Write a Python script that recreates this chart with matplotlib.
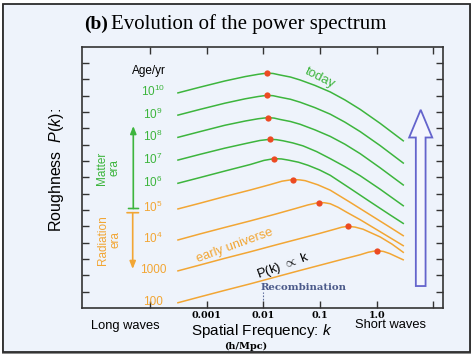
import numpy as np
import matplotlib
matplotlib.use("Agg")
import matplotlib.pyplot as plt
from matplotlib.patches import Rectangle, FancyArrow

plt.rcParams['font.family'] = ['Liberation Sans', 'DejaVu Sans']
plt.rcParams['mathtext.fontset'] = 'custom'
plt.rcParams['mathtext.rm'] = 'Liberation Sans'
plt.rcParams['mathtext.it'] = 'Liberation Sans:italic'

# log10(k) and log roughness (in tick units), one list per age
ages = [r'$10^{10}$', r'$10^{9}$', r'$10^{8}$', r'$10^{7}$', r'$10^{6}$',
        r'$10^{5}$', r'$10^{4}$', '1000', '100']
era = ['matter'] * 5 + ['radiation'] * 4

logk_1e10 = [-3.52, -3.12, -2.68, -2.32, -2.09, -1.94, -1.83, -1.71, -1.52, -1.35, -1.09, -0.82, -0.56, -0.29, 0.06, 0.48]
logp_1e10 = [13.15, 13.51, 13.89, 14.16, 14.30, 14.37, 14.35, 14.26, 14.13, 13.95, 13.62, 13.22, 12.73, 12.15, 11.30, 10.20]
logk_1e9 = [-3.52, -3.12, -2.68, -2.32, -2.09, -1.94, -1.83, -1.71, -1.52, -1.35, -1.09, -0.82, -0.56, -0.29, 0.06, 0.48]
logp_1e9 = [11.79, 12.15, 12.53, 12.80, 12.94, 13.01, 12.99, 12.90, 12.77, 12.59, 12.26, 11.86, 11.37, 10.79, 9.94, 8.84]
logk_1e8 = [-3.52, -3.12, -2.68, -2.32, -2.09, -1.92, -1.81, -1.71, -1.52, -1.35, -1.09, -0.82, -0.56, -0.29, 0.06, 0.48]
logp_1e8 = [10.43, 10.79, 11.18, 11.44, 11.58, 11.65, 11.62, 11.54, 11.41, 11.24, 10.90, 10.50, 10.02, 9.44, 8.58, 7.50]
logk_1e7 = [-3.52, -3.12, -2.68, -2.29, -2.06, -1.89, -1.77, -1.65, -1.48, -1.30, -1.06, -0.82, -0.56, -0.29, 0.06, 0.48]
logp_1e7 = [9.04, 9.40, 9.78, 10.08, 10.25, 10.32, 10.30, 10.23, 10.10, 9.92, 9.57, 9.14, 8.65, 8.09, 7.27, 6.23]
logk_1e6 = [-3.52, -3.12, -2.68, -2.23, -1.99, -1.81, -1.68, -1.56, -1.38, -1.21, -1.01, -0.82, -0.47, -0.12, 0.23, 0.48]
logp_1e6 = [7.62, 7.98, 8.38, 8.78, 9.03, 9.14, 9.12, 9.05, 8.92, 8.73, 8.45, 8.12, 7.32, 6.51, 5.71, 5.15]
logk_1e5 = [-3.52, -3.12, -2.68, -2.23, -1.88, -1.67, -1.48, -1.36, -1.26, -1.04, -0.82, -0.47, -0.12, 0.23, 0.48]
logp_1e5 = [6.05, 6.41, 6.82, 7.22, 7.55, 7.76, 7.86, 7.84, 7.79, 7.54, 7.21, 6.47, 5.71, 4.95, 4.40]
logk_1e4 = [-3.52, -3.12, -2.68, -2.23, -1.79, -1.44, -1.21, -1.02, -0.92, -0.82, -0.68, -0.53, -0.29, 0.06, 0.48]
logp_1e4 = [4.15, 4.53, 4.93, 5.33, 5.74, 6.08, 6.31, 6.45, 6.44, 6.38, 6.16, 5.86, 5.40, 4.67, 3.79]
logk_1e3 = [-3.52, -3.12, -2.68, -2.23, -1.79, -1.35, -1.00, -0.74, -0.62, -0.51, -0.38, -0.24, 0.06, 0.27, 0.48]
logp_1e3 = [2.26, 2.63, 3.04, 3.44, 3.85, 4.25, 4.57, 4.82, 4.94, 5.00, 4.95, 4.82, 4.35, 3.91, 3.38]
logk_1e2 = [-3.52, -3.12, -2.68, -2.23, -1.79, -1.35, -0.91, -0.56, -0.29, -0.15, 0.00, 0.12, 0.23, 0.48]
logp_1e2 = [0.31, 0.68, 1.08, 1.48, 1.89, 2.30, 2.70, 3.02, 3.26, 3.41, 3.51, 3.46, 3.33, 2.93]

curves_k = [logk_1e10, logk_1e9, logk_1e8, logk_1e7, logk_1e6, logk_1e5, logk_1e4, logk_1e3, logk_1e2]
curves_p = [logp_1e10, logp_1e9, logp_1e8, logp_1e7, logp_1e6, logp_1e5, logp_1e4, logp_1e3, logp_1e2]

# peak of each curve (red dots)
peak_logk = [-1.94, -1.94, -1.92, -1.89, -1.81, -1.48, -1.02, -0.51, 0.00]
peak_logp = [14.37, 13.01, 11.65, 10.32, 9.14, 7.86, 6.45, 5.00, 3.51]

xtick_k = [1e-4, 1e-3, 1e-2, 1e-1, 1, 10]
xtick_labels = ['', '0.001', '0.01', '0.1', '1.0', '']

GREEN = '#3db53d'
ORANGE = '#f2a634'
RED = '#ec4a22'
BG = '#eef3fb'
W, H = 474, 356


def fp(x, y):
    # pixel position -> figure fraction
    return x / W, 1 - y / H


fig = plt.figure(figsize=(W / 100, H / 100), dpi=100, facecolor='white')
fig.patches.append(Rectangle((2 / W, 2 / H), 469 / W, 350 / H, transform=fig.transFigure,
                             fc='#8a8a8a', ec='none', zorder=-3))
fig.patches.append(Rectangle((3 / W, 4 / H), 467 / W, 348 / H, transform=fig.transFigure,
                             fc=BG, ec='#2b2b2b', lw=1.3, zorder=-2))

ax = fig.add_axes([82 / W, 1 - 308 / H, 360.7 / W, 261.5 / H])
ax.set_facecolor('none')
ax.set_xscale('log')
ax.set_xlim(10 ** -5.2, 10 ** 1.165)
ax.set_ylim(0, 16)

for i in range(len(ages)):
    c = GREEN if era[i] == 'matter' else ORANGE
    ax.plot(10 ** np.array(curves_k[i]), curves_p[i], color=c, lw=1.1, solid_capstyle='butt')
    ax.plot(10 ** peak_logk[i], peak_logp[i], 'o', color=RED, ms=4.5, mec='none', zorder=5)
    ax.text(10 ** -3.945, curves_p[i][0] + 0.08, ages[i], color=c, fontsize=8.5,
            ha='center', va='center')

ax.set_xticks(xtick_k)
ax.set_xticklabels(xtick_labels, family='DejaVu Serif', fontweight='bold', fontsize=6.8)
ax.xaxis.set_minor_locator(matplotlib.ticker.NullLocator())
ax.set_yticks(range(1, 16))
ax.set_yticklabels([])
ax.tick_params(which='both', direction='in', length=5, width=1.0, color='#333333',
               top=True, right=True, pad=2)
for s in ax.spines.values():
    s.set_color('#333333')
    s.set_linewidth(1.2)

# title
fig.text(*fp(84, 24), '(b)', family='Liberation Serif', fontweight='bold', fontsize=14,
         ha='left', va='center')
fig.text(*fp(111, 24), 'Evolution of the power spectrum', family='Liberation Serif',
         fontsize=15, ha='left', va='center')

fig.text(*fp(148.5, 71), 'Age/yr', fontsize=8.5, ha='center', va='center')

# axis labels
fig.text(*fp(57, 170), r'Roughness  $P(k)$:', fontsize=11.5, rotation=90,
         ha='center', va='center')
fig.text(*fp(261.5, 331), r'Spatial Frequency: $k$', fontsize=11, ha='center', va='center')
fig.text(*fp(246, 346.5), '(h/Mpc)', family='DejaVu Serif', fontweight='bold', fontsize=7,
         ha='center', va='center')
fig.text(*fp(125, 325.5), 'Long waves', fontsize=9.3, ha='center', va='center')
fig.text(*fp(390.5, 325), 'Short waves', fontsize=9.3, ha='center', va='center')

# eras
fig.text(*fp(108.5, 168), 'Matter\nera', color=GREEN, fontsize=8.5, rotation=90,
         ha='center', va='center', linespacing=1.05, multialignment='center')
fig.text(*fp(109, 240), 'Radiation\nera', color=ORANGE, fontsize=8.5, rotation=90,
         ha='center', va='center', linespacing=1.05, multialignment='center')
ax.annotate('', xy=fp(133.3, 126), xytext=fp(133.3, 208.5), xycoords='figure fraction',
            arrowprops=dict(arrowstyle='-|>,head_width=0.18,head_length=0.45',
                            color=GREEN, lw=1.2, shrinkA=0, shrinkB=0))
ax.annotate('', xy=fp(138.5, 208.5), xytext=fp(128.5, 208.5), xycoords='figure fraction',
            arrowprops=dict(arrowstyle='-', color=GREEN, lw=1.2, shrinkA=0, shrinkB=0))
ax.annotate('', xy=fp(132.7, 269), xytext=fp(132.7, 212.7), xycoords='figure fraction',
            arrowprops=dict(arrowstyle='-|>,head_width=0.18,head_length=0.45',
                            color=ORANGE, lw=1.2, shrinkA=0, shrinkB=0))
ax.annotate('', xy=fp(138.5, 212.7), xytext=fp(127, 212.7), xycoords='figure fraction',
            arrowprops=dict(arrowstyle='-', color=ORANGE, lw=1.2, shrinkA=0, shrinkB=0))

# curve annotations
fig.text(*fp(320, 78), 'today', color=GREEN, fontsize=9.5, rotation=-27,
         ha='center', va='center', rotation_mode='anchor')
fig.text(*fp(235, 246), 'early universe', color=ORANGE, fontsize=9.3, rotation=20,
         ha='center', va='center', rotation_mode='anchor')
fig.text(*fp(283, 266), r'P(k) $\propto$ k', color='black', fontsize=9.5, rotation=20,
         ha='center', va='center', rotation_mode='anchor')
fig.text(*fp(304, 287.5), 'Recombination', color='#4b5a8a', family='DejaVu Serif',
         fontweight='bold', fontsize=7.3, ha='center', va='center')
ax.plot([1e-2, 1e-2], [0.5, 0.95], color='#5a6a9a', lw=0.8, ls=(0, (1.5, 1.5)))

# big arrow on the right
ax.add_patch(FancyArrow(0.939, 0.084, 0, 0.674, width=0.027, head_width=0.064,
                        head_length=0.106, length_includes_head=True,
                        transform=ax.transAxes, fc='#f4f6fd', ec='#6464cc', lw=1.3, zorder=4))

fig.savefig('out.png', dpi=100, facecolor=fig.get_facecolor())
